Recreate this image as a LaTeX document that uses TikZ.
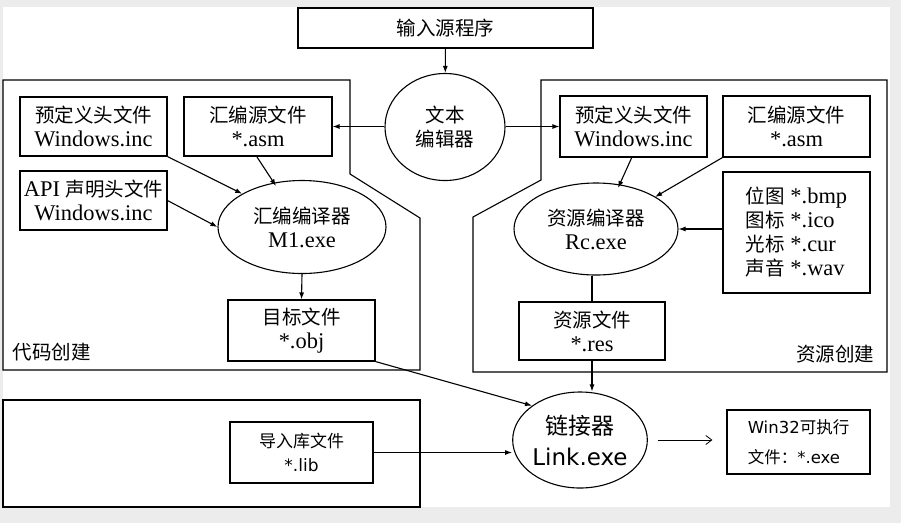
\documentclass[tikz,border=0pt]{standalone}
\usepackage{fontspec}
\setmainfont[Scale=1.15]{Liberation Serif}
\newfontfamily\cjk{Noto Sans CJK SC}
\newfontfamily\sansf{DejaVu Sans}
\usetikzlibrary{arrows.meta,shapes.geometric}
\begin{document}
\begin{tikzpicture}[x=1pt,y=-1pt,line width=1.1pt,
  box/.style={draw,rectangle,align=center,font=\fontsize{19.5}{24}\selectfont,inner sep=0pt},
  ell/.style={draw,ellipse,align=center,font=\fontsize{19.5}{24}\selectfont,inner sep=0pt},
  arr/.style={-{Latex[length=7pt,width=5pt]}},
  cont/.style={draw,line width=1.1pt}]
\useasboundingbox (0,0) rectangle (901,523);
\fill[gray!15] (0,0) rectangle (901,523);
\fill[white] (3,7) rectangle (890,507);
% containers
\draw[cont] (3,80) -- (350,80) -- (350,174) -- (420,218) -- (420,370) -- (3,370) -- cycle;
\draw[cont] (541,80) -- (887,80) -- (887,372) -- (473,372) -- (473,217) -- (541,180) -- cycle;
\draw[cont] (3,400) rectangle (420,507);
% nodes
\node[box,minimum width=295pt,minimum height=40pt] (in) at (445.5,28) {{\cjk 输入源程序}};
\node[ell,minimum width=120pt,minimum height=107pt] (ed) at (445,127) {{\cjk 文本}\\{\cjk 编辑器}};
\node[box,minimum width=147pt,minimum height=59pt] (lp) at (93.5,126.5) {{\cjk 预定义头文件}\\Windows.inc};
\node[box,minimum width=148pt,minimum height=59pt] (la) at (258,126.5) {{\cjk 汇编源文件}\\*.asm};
\node[box,minimum width=147pt,minimum height=59pt] (api) at (93.5,200.5) {API {\cjk 声明头文件}\\Windows.inc};
\node[ell,minimum width=168pt,minimum height=93pt] (m1) at (302,227) {{\cjk 汇编编译器}\\M1.exe};
\node[box,minimum width=147pt,minimum height=61pt] (obj) at (301.5,330.5) {{\cjk 目标文件}\\*.obj};
\node[anchor=west,font=\cjk\fontsize{19.5}{24}\selectfont,inner sep=0pt] (lc) at (12,352) {代码创建};
\node[box,minimum width=147pt,minimum height=61pt] (rp) at (633.5,126.5) {{\cjk 预定义头文件}\\Windows.inc};
\node[box,minimum width=147pt,minimum height=61pt] (ra) at (796.5,126.5) {{\cjk 汇编源文件}\\*.asm};
\node[box,minimum width=147pt,minimum height=121pt,align=left] (bmp) at (796.5,232.5) {{\cjk 位图} *.bmp\\{\cjk 图标} *.ico\\{\cjk 光标} *.cur\\{\cjk 声音} *.wav};
\node[ell,minimum width=164pt,minimum height=92pt] (rc) at (596,229) {{\cjk 资源编译器}\\Rc.exe};
\node[box,minimum width=146pt,minimum height=58pt] (res) at (592,331) {{\cjk 资源文件}\\*.res};
\node[anchor=east,font=\cjk\fontsize{19.5}{24}\selectfont,inner sep=0pt] (rl) at (875,354) {资源创建};
\node[box,minimum width=143pt,minimum height=61pt,font=\sansf\fontsize{17}{24}\selectfont] (lib) at (301.5,452.5) {{\cjk 导入库文件}\\*.lib};
\node[ell,minimum width=134pt,minimum height=96pt,font=\sansf\fontsize{23}{31}\selectfont] (lk) at (580,440) {{\cjk 链接器}\\Link.exe};
\node[box,minimum width=143pt,minimum height=64pt,font=\sansf\fontsize{16.5}{30}\selectfont,align=left] (w32) at (798.5,442) {Win32{\cjk 可执行}\\{\cjk 文件：}*.exe};
% connectors
\draw[arr] (in) -- (ed);
\draw[arr] (ed.west |- la.east) -- (la.east);
\draw[arr] (ed.east |- rp.west) -- (rp.west);
\draw[arr] (lp.south east) -- (m1.north west);
\draw[arr] (257,157) -- (276,186);
\draw[arr] (api.east) -- (m1.west);
\draw[arr] (m1.south) -- (obj.north);
\draw[arr] (632,157) -- (618,188);
\draw[arr] (ra.south west) -- (655,197);
\draw[arr] (bmp.west |- rc.east) -- (rc.east);
\draw (rc.south -| res.north) -- (res.north);
\draw[arr] (res.south) -- (lk.north -| res.south);
\draw[arr] (obj.south east) -- (lk.north west);
\draw[arr] (lib.east) -- (lk.west |- lib.east);
\draw[-{Straight Barb[length=6pt,width=9pt]},line width=0.8pt] ([xshift=10pt]lk.east) -- ([xshift=-14pt]w32.west |- lk.east);
\end{tikzpicture}
\end{document}
